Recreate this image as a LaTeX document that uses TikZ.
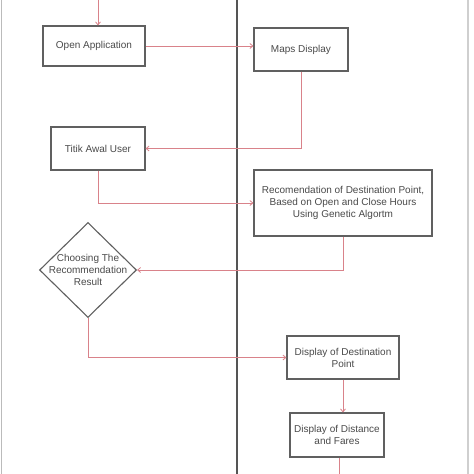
\documentclass[tikz,border=0pt]{standalone}
\usepackage{fontspec}
\setmainfont{Liberation Sans}
\usetikzlibrary{shapes.geometric,arrows.meta}
\definecolor{boxline}{HTML}{606060}
\definecolor{txtc}{HTML}{4A4A4A}
\definecolor{conn}{HTML}{D9828A}
\definecolor{lane}{HTML}{555555}
\definecolor{edge}{HTML}{BBBBBB}
\begin{document}
\begin{tikzpicture}[x=1pt,y=-1pt,
  box/.style={draw=boxline,line width=1.1pt,fill=white,inner sep=0pt,align=center,text=txtc,font=\fontsize{10}{12}\selectfont},
  dia/.style={draw=boxline,line width=1.1pt,fill=white,shape=diamond,inner sep=0pt,minimum width=97pt,minimum height=95pt},
  txt/.style={inner sep=0pt,align=center,text=txtc,font=\fontsize{10}{12}\selectfont},
  conn/.style={draw=conn,line width=0.8pt,-{Straight Barb[length=3pt,width=5pt]}},
  plain/.style={draw=conn,line width=0.8pt}]
\useasboundingbox (0,0) rectangle (474,474);
\fill[white] (0,0) rectangle (474,474);
% lanes
\draw[edge,line width=1.2pt] (1.5,0) -- (1.5,474);
\draw[edge!70,line width=1.2pt] (468,0) -- (468,474);
\draw[lane,line width=1.4pt] (237,0) -- (237,474);
% nodes
\node[box,minimum width=102pt,minimum height=40pt] (oa) at (94,46) {Open Application};
\node[box,minimum width=94pt,minimum height=43pt] (md) at (301,49.5) {Maps Display};
\node[box,minimum width=94pt,minimum height=43pt] (ta) at (98,148.5) {Titik Awal User};
\node[box,minimum width=178pt,minimum height=66pt] (rec) at (343,203) {Recomendation of Destination Point,\\Based on Open and Close Hours\\Using Genetic Algortm};
\node[dia] (ch) at (88,270) {};
\node[txt] (cht) at (88,270) {Choosing The\\Recommendation\\Result};
\node[box,minimum width=112pt,minimum height=43pt] (dd) at (343,357.5) {Display of Destination\\Point};
\node[box,minimum width=94pt,minimum height=44pt] (df) at (337,435) {Display of Distance\\and Fares};
\coordinate (top) at (98,0);
\coordinate (bot) at (339,474);
% connectors
\draw[conn] (top) -- (top |- oa.north);
\draw[conn] (oa.east) -- (oa.east -| md.west);
\draw[conn] (md.south) |- (ta.east);
\draw[conn] (ta.south) |- (rec.west);
\draw[conn] (rec.south) |- (ch.east);
\draw[conn] (ch.south) |- (dd.west);
\draw[conn] (dd.south) -- (dd.south |- df.north);
\draw[plain] (df.south -| bot) -- (bot);
\end{tikzpicture}
\end{document}
